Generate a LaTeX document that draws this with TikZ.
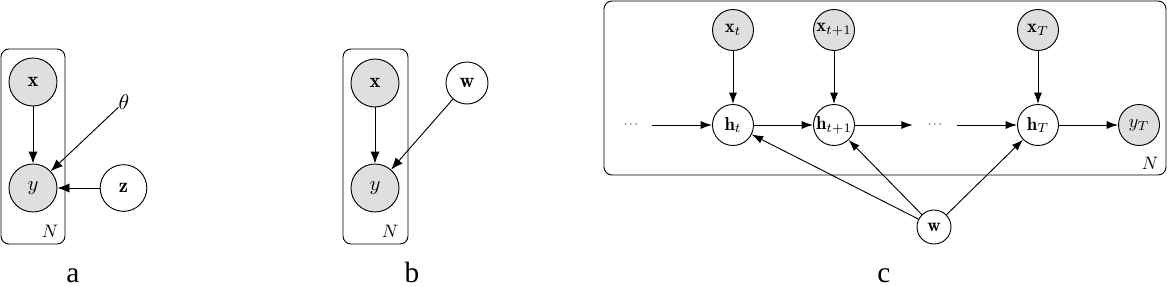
\documentclass[tikz,border=0pt]{standalone}
\usepackage{fontspec}
\usepackage{graphicx}
\newfontfamily\labelfont{Liberation Serif}
\usetikzlibrary{arrows.meta}
\newcommand{\myBigMath}[1]{\scalebox{1.55}{$#1$}}
\newcommand{\mySmMath}[1]{\scalebox{1.4}{$#1$}}
\newcommand{\myPlMath}[1]{\scalebox{1.35}{$#1$}}
\begin{document}
\begin{tikzpicture}[x=0.75pt,y=-0.75pt,
  every node/.style={inner sep=0pt},
  obs/.style={circle,draw,fill=gray!25,line width=0.7pt,minimum size=#1},
  lat/.style={circle,draw,fill=white,line width=0.7pt,minimum size=#1},
  arr/.style={-{Latex[length=9pt,width=7pt]},line width=0.7pt},
  arrc/.style={-{Latex[length=8.5pt,width=6pt]},line width=0.7pt},
  plate/.style={draw,rounded corners=6pt,line width=0.7pt},
  lab/.style={font=\labelfont\fontsize{22}{26}\selectfont,anchor=base},
  dots/.style={minimum width=#1}]
\useasboundingbox (0,0) rectangle (1168,286);
% ---------- panel a ----------
\draw[plate] (1,49) rectangle (65,244);
\node[obs=36pt] (ax) at (33,82) {\myBigMath{\mathbf{x}}};
\node[obs=36pt] (ay) at (33,188) {\myBigMath{y}};
\node[lat=35pt] (az) at (123.5,188) {\myBigMath{\mathbf{z}}};
\node (ath) at (124,102) {\scalebox{1.6}{$\theta$}};
\node (aN) at (50,231) {\myPlMath{N}};
\draw[arr] (ax) -- (ay);
\draw[arr] (az) -- (ay);
\draw[arr] (ath) -- (ay);
\node[lab] (la) at (73,282) {a};
% ---------- panel b ----------
\draw[plate] (343,49) rectangle (408,244);
\node[obs=36pt] (bx) at (375,83) {\myBigMath{\mathbf{x}}};
\node[obs=36pt] (by) at (375,188) {\myBigMath{y}};
\node[lat=31.5pt] (bw) at (467,83) {\myBigMath{\mathbf{w}}};
\node (bN) at (390,231) {\myPlMath{N}};
\draw[arr] (bx) -- (by);
\draw[arr] (bw) -- (by);
\node[lab] (lb) at (412,282) {b};
% ---------- panel c ----------
\draw[plate] (604,1) rectangle (1166,175);
\node[obs=30.75pt] (xt) at (733,30) {\mySmMath{\mathbf{x}_t}};
\node[obs=30.75pt] (xt1) at (834,30) {\mySmMath{\mathbf{x}_{t+1}}};
\node[obs=30.75pt] (xT) at (1038,30) {\mySmMath{\mathbf{x}_T}};
\node[lat=30.75pt] (ht) at (733,125) {\mySmMath{\mathbf{h}_t}};
\node[lat=30.75pt] (ht1) at (834,125) {\mySmMath{\mathbf{h}_{t+1}}};
\node[lat=30.75pt] (hT) at (1038,125) {\mySmMath{\mathbf{h}_T}};
\node[obs=30.75pt] (yT) at (1139,125) {\mySmMath{y_T}};
\node[dots=31.5pt] (dl) at (631,125) {\scalebox{0.9}{$\cdots$}};
\node[dots=33pt] (dm) at (935,125) {\scalebox{0.9}{$\cdots$}};
\node[lat=25.5pt] (cw) at (934,227) {\mySmMath{\mathbf{w}}};
\node (cN) at (1150,163) {\myPlMath{N}};
\draw[arrc] (xt) -- (ht);
\draw[arrc] (xt1) -- (ht1);
\draw[arrc] (xT) -- (hT);
\draw[arrc] (dl) -- (ht);
\draw[arrc] (ht) -- (ht1);
\draw[arrc] (ht1) -- (dm);
\draw[arrc] (dm) -- (hT);
\draw[arrc] (hT) -- (yT);
\draw[arrc] (cw) -- (ht);
\draw[arrc] (cw) -- (ht1);
\draw[arrc] (cw) -- (hT);
\node[lab] (lc) at (884,282) {c};
\end{tikzpicture}
\end{document}
